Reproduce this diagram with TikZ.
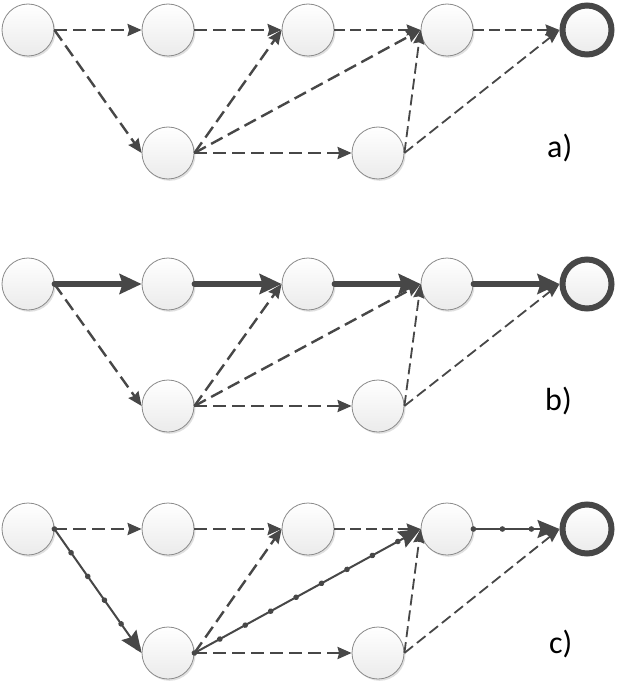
\documentclass[tikz,border=0pt]{standalone}
\usepackage{fontspec}
\setmainfont{Carlito}
\usetikzlibrary{arrows.meta,decorations.markings,shadows}
\definecolor{ln}{HTML}{474747}
\definecolor{nodeline}{HTML}{8A8A8A}
\definecolor{nodetop}{HTML}{FFFFFF}
\definecolor{nodebot}{HTML}{EBEBEB}
\begin{document}
\begin{tikzpicture}[x=1pt,y=-1pt,
  circ/.style={circle, draw=nodeline, line width=0.8pt, minimum size=52pt, inner sep=0pt,
    top color=nodetop, bottom color=nodebot,
    drop shadow={shadow xshift=1.5pt, shadow yshift=-1.8pt, opacity=0.12, fill=black}},
  fin/.style={circle, draw=ln, line width=6pt, minimum size=49pt, inner sep=0pt,
    top color=nodetop, bottom color=nodebot,
    drop shadow={shadow xshift=1.5pt, shadow yshift=-1.8pt, opacity=0.12, fill=black}},
  dthick/.style={draw=ln, line width=2.4pt, dash pattern=on 13pt off 6pt,
    -{Stealth[length=14pt,width=12pt,inset=1.5pt]}},
  dthin/.style={draw=ln, line width=1.8pt, dash pattern=on 11pt off 5pt,
    -{Stealth[length=14pt,width=11pt,inset=1.5pt]}},
  crit/.style={draw=ln, line width=5.5pt, line cap=round,
    -{Stealth[length=22pt,width=20pt,inset=3pt]}},
  dotted path/.style={draw=ln, line width=2pt,
    -{Stealth[length=22pt,width=18pt,inset=3pt]},
    postaction={decorate, decoration={markings,
      mark=between positions 0 and 1 step 29pt with {\fill[ln] (0pt,0pt) circle (2.8pt);}}}},
  lbl/.style={font=\fontsize{32}{36}\selectfont, anchor=base west, inner sep=0pt, text=black}
]
\useasboundingbox (0,0) rectangle (620,682);

% nodes for all three panels
\foreach \p/\t/\b in {a/30/153, b/284/406, c/529/653}{
  \node[circ] (\p1) at (28,\t) {};
  \node[circ] (\p2) at (168,\t) {};
  \node[circ] (\p3) at (308,\t) {};
  \node[circ] (\p4) at (447,\t) {};
  \node[fin]  (\p5) at (587,\t) {};
  \node[circ] (\p6) at (168,\b) {};
  \node[circ] (\p7) at (378,\b) {};
}

% ---------- panel a ----------
\draw[dthick] (a1.east) -- (a2.west);
\draw[dthick] (a1.east) -- (a6.west);
\draw[dthick] (a2.east) -- (a3.west);
\draw[dthick] (a6.east) -- (a3.west);
\draw[dthick] (a6.east) -- (a4.west);
\draw[dthick] (a6.east) -- (a7.west);
\draw[dthin] (a3.east) -- (a4.west);
\draw[dthin] (a7.east) -- (a4.west);
\draw[dthin] (a7.east) -- (a5.west);
\draw[dthin] (a4.east) -- (a5.west);
\node[lbl] (la) at (547,157) {a)};

% ---------- panel b ----------
\draw[dthick] (b1.east) -- (b6.west);
\draw[dthick] (b6.east) -- (b3.west);
\draw[dthick] (b6.east) -- (b4.west);
\draw[dthick] (b6.east) -- (b7.west);
\draw[dthin] (b7.east) -- (b4.west);
\draw[dthin] (b7.east) -- (b5.west);
\draw[crit] (b1.east) -- (b2.west);
\draw[crit] (b2.east) -- (b3.west);
\draw[crit] (b3.east) -- (b4.west);
\draw[crit] (b4.east) -- (b5.west);
\node[lbl] (lb) at (545,410) {b)};

% ---------- panel c ----------
\draw[dthick] (c1.east) -- (c2.west);
\draw[dthick] (c2.east) -- (c3.west);
\draw[dthick] (c6.east) -- (c3.west);
\draw[dthick] (c6.east) -- (c7.west);
\draw[dthin] (c3.east) -- (c4.west);
\draw[dthin] (c7.east) -- (c4.west);
\draw[dthin] (c7.east) -- (c5.west);
\draw[dotted path] (c1.east) -- (c6.west);
\draw[dotted path] (c6.east) -- (c4.west);
\draw[dotted path] (c4.east) -- (c5.west);
\node[lbl] (lc) at (549,653) {c)};
\end{tikzpicture}
\end{document}
